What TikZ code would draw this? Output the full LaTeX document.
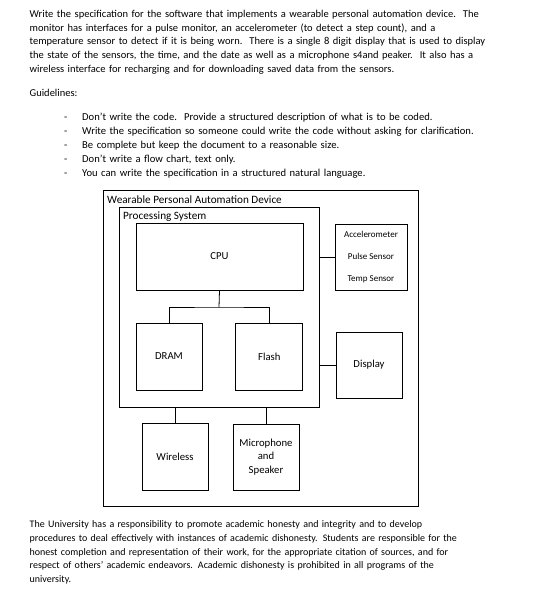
\documentclass[tikz,border=0pt]{standalone}
\usepackage{fontspec}
\setmainfont{Carlito}
\usetikzlibrary{positioning}

\tikzset{
  para/.style={anchor=base west,inner sep=0pt,text width=520pt,align=left,
    font=\fontsize{10.5}{13.65}\selectfont},
  unit/.style={rectangle,draw,line width=0.8pt,align=center,
    font=\fontsize{10.7}{13.5}\selectfont},
  frame/.style={rectangle,draw,line width=0.8pt},
  caption/.style={anchor=west,inner sep=0pt,font=\fontsize{11.2}{12}\selectfont},
  wire/.style={line width=0.8pt}
}

\begin{document}
\begin{tikzpicture}[x=1pt,y=-1pt]
	\useasboundingbox (0,0) rectangle (543,597);
	% Text above the picture
	\node [para] (intro) at (29.5,17.5) {Write the specification for the software that implements a wearable personal automation device.\ \ The\\
	monitor has interfaces for a pulse monitor, an accelerometer (to detect a step count), and a\\
	temperature sensor to detect if it is being worn.\ \ There is a single 8 digit display that is used to display\\
	the state of the sensors, the time, and the date as well as a microphone s4and peaker.\ \ It also has a\\
	wireless interface for recharging and for downloading saved data from the sensors.};
	\node [para] (guide) at (29.5,96.7) {Guidelines:};
	\node [para,font=\fontsize{10.6}{14.05}\selectfont] (rules) at (64,120.5) {\makebox[18pt][l]{-}Don’t write the code.\ \ Provide a structured description of what is to be coded.\\
	\makebox[18pt][l]{-}Write the specification so someone could write the code without asking for clarification.\\
	\makebox[18pt][l]{-}Be complete but keep the document to a reasonable size.\\
	\makebox[18pt][l]{-}Don’t write a flow chart, text only.\\
	\makebox[18pt][l]{-}You can write the specification in a structured natural language.};

	% Boxes
	\node [frame,minimum width=315pt,minimum height=316pt] (device) at (260.5,348) {};
	\node [caption] (devicename) at (107,200) {Wearable Personal Automation Device};
	\node [frame,minimum width=200pt,minimum height=200pt] (procsys) at (219,307) {};
	\node [caption] (procname) at (123,217) {Processing System};
	\node [unit,minimum width=167pt,minimum height=67pt] (cpu) at (219.5,256.5) {CPU};
	\node [unit,minimum width=66pt,minimum height=67pt] (dram) at (169,356.5) {DRAM};
	\node [unit,right=33pt of dram,minimum width=67pt,minimum height=67pt] (flash) {Flash};
	\node [unit,minimum width=72pt,minimum height=66pt,font=\fontsize{9}{22}\selectfont] (sensors) at (371,257) {Accelerometer\\Pulse Sensor\\Temp Sensor};
	\node [unit,minimum width=66pt,minimum height=66pt] (display) at (369,365) {Display};
	\node [unit,minimum width=66pt,minimum height=67pt] (wireless) at (175,456.5) {Wireless};
	\node [unit,minimum width=66pt,minimum height=66pt] (mic) at (266,457) {Microphone\\and\\Speaker};
	\coordinate (bus) at (219,307);

	% Wires
	\draw [wire] (cpu.south) -- (bus);
	\draw [wire] (dram.north) |- (bus) -| (flash.north);
	\draw [wire] (sensors.west -| procsys.east) -- (sensors.west);
	\draw [wire] (display.west -| procsys.east) -- (display.west);
	\draw [wire] (wireless.north |- procsys.south) -- (wireless.north);
	\draw [wire] (mic.north |- procsys.south) -- (mic.north);

	% Text below the picture
	\node [para,font=\fontsize{10}{13.75}\selectfont] (honesty) at (29.5,527.7) {The University has a responsibility to promote academic honesty and integrity and to develop\\
	procedures to deal effectively with instances of academic dishonesty. Students are responsible for the\\
	honest completion and representation of their work, for the appropriate citation of sources, and for\\
	respect of others’ academic endeavors. Academic dishonesty is prohibited in all programs of the\\
	university.};
\end{tikzpicture}
\end{document}
